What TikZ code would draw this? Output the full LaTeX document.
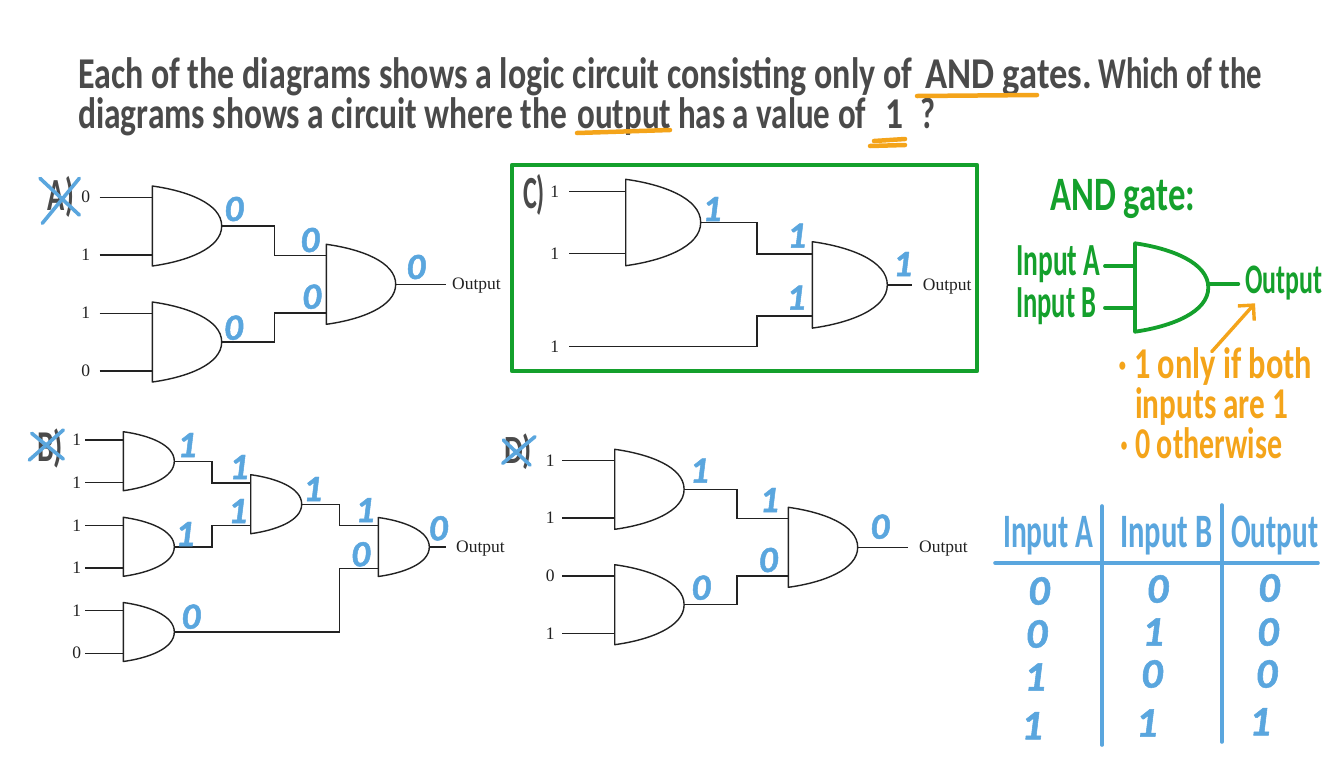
\documentclass[tikz,border=0pt]{standalone}
\usepackage{fontspec}
\usepackage{graphicx}
\usetikzlibrary{arrows.meta,calc}
\newfontfamily\hwf{Carlito}
\newfontfamily\hwd[BoldItalicFeatures={FakeBold=1.3}]{Carlito}
\newfontfamily\serf{Liberation Serif}
\definecolor{ink}{HTML}{4A4A4A}
\definecolor{hgreen}{HTML}{14A02C}
\definecolor{hblue}{HTML}{5AA6DE}
\definecolor{horange}{HTML}{F4A41A}
\definecolor{wirec}{HTML}{222222}
\newcommand{\hw}[3]{\resizebox{#1pt}{\height}{\hwf\bfseries\fontsize{#2}{#2}\selectfont #3}}
\newcommand{\andgate}[6][gateline]{%
  \begin{scope}[shift={(#3,#4)},x=#5pt,y=-#6pt]
    \draw[#1] (0,0) .. controls (.5,.06) and (1,.22) .. (1,.5)
      .. controls (1,.78) and (.5,.94) .. (0,1) -- cycle;
    \coordinate (#2-a) at (0,.14);
    \coordinate (#2-b) at (0,.86);
    \coordinate (#2-o) at (1,.5);
  \end{scope}}
\tikzset{
  gateline/.style={draw=wirec,line width=1.4pt,line join=round},
  wire/.style={draw=wirec,line width=1.4pt},
  bigline/.style={draw=hgreen,line width=3.8pt,line join=round,line cap=round},
  inlab/.style={font=\serf\fontsize{17.5}{17.5}\selectfont,text=wirec,anchor=east,inner ysep=0pt},
  outlab/.style={font=\serf\fontsize{17.5}{17.5}\selectfont,text=wirec,anchor=base west,inner ysep=0pt,yshift=-5.5pt},
  val/.style={font=\hwd\bfseries\itshape\fontsize{37}{37}\selectfont,text=hblue,inner sep=0pt},
  tval/.style={font=\hwd\bfseries\itshape\fontsize{42}{42}\selectfont,text=hblue,inner sep=0pt},
  tline/.style={draw=hblue,line width=3.6pt,line cap=round},
  cross/.style={draw=hblue,line width=3.6pt,line cap=round},
  under/.style={draw=horange,line width=4.5pt,line cap=round},
  hand/.style={anchor=base west,inner sep=0pt},
  opt/.style={text=ink,inner sep=0pt},
}
\begin{document}
\begin{tikzpicture}[x=1pt,y=-1pt]
\useasboundingbox (0,0) rectangle (1344,756);
\fill[white] (0,0) rectangle (1344,756);

% title
\node[hand,text=ink] (t1) at (78,88) {\hw{834}{44}{Each of the diagrams shows a logic circuit consisting only of}};
\node[hand,text=ink] (t2) at (925,88) {\hw{167}{44}{AND gates.}};
\node[hand,text=ink] (t3) at (1098,88) {\hw{164}{44}{Which of the}};
\node[hand,text=ink] (t4) at (78,128) {\hw{489}{44}{diagrams shows a circuit where the}};
\node[hand,text=ink] (t5) at (577,128) {\hw{94}{44}{output}};
\node[hand,text=ink] (t6) at (678,128) {\hw{188}{44}{has a value of}};
\node[hand,text=ink] (t7) at (885,128) {\hw{18}{44}{1}};
\node[hand,text=ink] (t8) at (920,128) {\hw{15}{44}{?}};
\draw[under] (917,96) -- (1037,95);
\draw[under] (577,133) -- (670,130);
\draw[under] (870,146) -- (905,145);
\draw[under] (874,141) -- (905,139);

% diagram A
\andgate{A1}{152.3}{186}{69.4}{80}
\andgate{A2}{152.3}{302}{69.4}{80}
\andgate{A3}{326.3}{244.3}{69.4}{80}
\coordinate (jA) at (274.7,0);
\node[inlab,inner xsep=9.3pt] (Ai1) at (99.7,0 |- A1-a) {0};
\node[inlab,inner xsep=9.3pt] (Ai2) at (99.7,0 |- A1-b) {1};
\node[inlab,inner xsep=9.3pt] (Ai3) at (99.7,0 |- A2-a) {1};
\node[inlab,inner xsep=9.3pt] (Ai4) at (99.7,0 |- A2-b) {0};
\draw[wire] (Ai1.east) -- (A1-a);
\draw[wire] (Ai2.east) -- (A1-b);
\draw[wire] (Ai3.east) -- (A2-a);
\draw[wire] (Ai4.east) -- (A2-b);
\draw[wire] (A1-o) -| (jA |- A3-a) -- (A3-a);
\draw[wire] (A2-o) -| (jA |- A3-b) -- (A3-b);
\node[outlab,inner xsep=6pt] (Aout) at (446,0 |- A3-o) {Output};
\draw[wire] (A3-o) -- (Aout.west |- A3-o);
\foreach \x/\y/\d [count=\i] in {234/209/0,310/240/0,233.5/327.7/0,311.7/296.7/0,416/267/0}
  \node[val] (Av\i) at (\x,\y) {\d};
\node[opt] (Alab) at (61,197) {\hw{26}{46}{A)}};
\draw[cross] (40,178.3) -- (79.3,215);
\draw[cross] (79.3,178.3) -- (42.3,223.3);

% diagram C
\draw[bigline,line width=4.5pt] (512,165) rectangle (977,371);
\andgate{C1}{625.7}{179.3}{75}{86.4}
\andgate{C2}{812.3}{241.7}{75}{86.4}
\coordinate (jC) at (757,0);
\node[inlab,inner xsep=9.6pt] (Ci1) at (569,0 |- C1-a) {1};
\node[inlab,inner xsep=9.6pt] (Ci2) at (569,0 |- C1-b) {1};
\node[inlab,inner xsep=9.6pt] (Ci3) at (569,346.7) {1};
\draw[wire] (Ci1.east) -- (C1-a);
\draw[wire] (Ci2.east) -- (C1-b);
\draw[wire] (Ci3.east) -| (jC |- C2-b) -- (C2-b);
\draw[wire] (C1-o) -| (jC |- C2-a) -- (C2-a);
\node[outlab,inner xsep=10.4pt] (Cout) at (912.3,0 |- C2-o) {Output};
\draw[wire] (C2-o) -- (Cout.west |- C2-o);
\foreach \x/\y/\d [count=\i] in {712/209/1,796.7/235.7/1,796/297.7/1,902.7/264/1}
  \node[val] (Cv\i) at (\x,\y) {\d};
\node[opt] (Clab) at (534,195) {\hw{22}{46}{C)}};

% diagram B
\andgate{B1}{123.3}{431.7}{51}{59}
\andgate{B2}{123.3}{517.3}{51}{59}
\andgate{B3}{123.3}{602.5}{51}{59}
\andgate{B4}{250.7}{474.7}{51}{59}
\andgate{B5}{378.3}{517.5}{51}{59}
\coordinate (jB1) at (212,0);
\coordinate (jB2) at (339.7,0);
\node[inlab,inner xsep=3.6pt] (Bi1) at (85,0 |- B1-a) {1};
\node[inlab,inner xsep=3.6pt] (Bi2) at (85,0 |- B1-b) {1};
\node[inlab,inner xsep=3.6pt] (Bi3) at (85,0 |- B2-a) {1};
\node[inlab,inner xsep=3.6pt] (Bi4) at (85,0 |- B2-b) {1};
\node[inlab,inner xsep=3.6pt] (Bi5) at (85,0 |- B3-a) {1};
\node[inlab,inner xsep=3.6pt] (Bi6) at (85,0 |- B3-b) {0};
\draw[wire] (Bi1.east) -- (B1-a);
\draw[wire] (Bi2.east) -- (B1-b);
\draw[wire] (Bi3.east) -- (B2-a);
\draw[wire] (Bi4.east) -- (B2-b);
\draw[wire] (Bi5.east) -- (B3-a);
\draw[wire] (Bi6.east) -- (B3-b);
\draw[wire] (B1-o) -| (jB1 |- B4-a) -- (B4-a);
\draw[wire] (B2-o) -| (jB1 |- B4-b) -- (B4-b);
\draw[wire] (B4-o) -| (jB2 |- B5-a) -- (B5-a);
\draw[wire] (B3-o) -| (jB2 |- B5-b) -- (B5-b);
\node[outlab,inner xsep=10pt] (Bout) at (446,0 |- B5-o) {Output};
\draw[wire] (B5-o) -- (Bout.west |- B5-o);
\foreach \x/\y/\d [count=\i] in {187/445/1,239/467/1,237.7/511/1,185/534/1,312.7/489/1,365/510/1,360.7/554.3/0,438.3/528.3/0,191/616.7/0}
  \node[val] (Bv\i) at (\x,\y) {\d};
\node[opt] (Blab) at (50,448) {\hw{26}{44}{B)}};
\draw[cross] (63.3,430) -- (29.3,460);
\draw[cross] (31.7,433.3) -- (63.3,459);

% diagram D
\andgate{D1}{614.7}{449.3}{69.4}{80}
\andgate{D2}{614.7}{564.7}{69.4}{80}
\andgate{D3}{788.3}{507.3}{69.4}{80}
\coordinate (jD) at (737,0);
\node[inlab,inner xsep=7.3pt] (Di1) at (562,0 |- D1-a) {1};
\node[inlab,inner xsep=7.3pt] (Di2) at (562,0 |- D1-b) {1};
\node[inlab,inner xsep=7.3pt] (Di3) at (562,0 |- D2-a) {0};
\node[inlab,inner xsep=7.3pt] (Di4) at (562,0 |- D2-b) {1};
\draw[wire] (Di1.east) -- (D1-a);
\draw[wire] (Di2.east) -- (D1-b);
\draw[wire] (Di3.east) -- (D2-a);
\draw[wire] (Di4.east) -- (D2-b);
\draw[wire] (D1-o) -| (jD |- D3-a) -- (D3-a);
\draw[wire] (D2-o) -| (jD |- D3-b) -- (D3-b);
\node[outlab,inner xsep=10.7pt] (Dout) at (908.3,0 |- D3-o) {Output};
\draw[wire] (D3-o) -- (Dout.west |- D3-o);
\foreach \x/\y/\d [count=\i] in {699.3/470.7/1,769.3/500/1,768.3/560/0,701/587.7/0,880/526.7/0}
  \node[val] (Dv\i) at (\x,\y) {\d};
\node[opt] (Dlab) at (518,452) {\hw{28}{40}{D)}};
\draw[cross] (535,436.7) -- (502.7,463.3);
\draw[cross] (503.3,440) -- (530,465);

% AND gate panel
\node[hand,text=hgreen] (g0) at (1050,210) {\hw{145}{48}{AND gate:}};
\andgate[bigline]{G}{1135}{243.3}{73.3}{88.4}
\node[hand,text=hgreen] (gA) at (1016,275) {\hw{84}{46}{Input A}};
\node[hand,text=hgreen] (gB) at (1016,317) {\hw{80}{46}{Input B}};
\node[hand,text=hgreen] (gO) at (1245,293) {\hw{77}{42}{Output}};
\coordinate (gAe) at (1105,266);
\coordinate (gBe) at (1105,307.7);
\coordinate (gOe) at (1238.3,284);
\draw[bigline] (gAe) -- (G-a |- gAe);
\draw[bigline] (gBe) -- (G-b |- gBe);
\draw[bigline] (G-o |- gOe) -- (gOe);
\node[hand,text=horange] (n1) at (1118,378) {\hw{194}{44}{· 1 only if both}};
\node[hand,text=horange] (n2) at (1135,418) {\hw{153}{44}{inputs are 1}};
\node[hand,text=horange] (n3) at (1120,458) {\hw{162}{44}{· 0 otherwise}};
\coordinate (arS) at (1211.7,351.7);
\coordinate (arE) at (1255,303.3);
\draw[draw=horange,line width=3.4pt,line cap=round,line join=round,-{Straight Barb[length=11pt,width=22pt]}] (arS) -- (arE);

% truth table
\node[hand,text=hblue] (h1) at (1003,547) {\hw{90}{48}{Input A}};
\node[hand,text=hblue] (h2) at (1120,547) {\hw{92}{48}{Input B}};
\node[hand,text=hblue] (h3) at (1231,547) {\hw{87}{48}{Output}};
\draw[tline] (995,563) -- (1318,563);
\draw[tline] (1102,506) -- (1102,745);
\draw[tline] (1221.7,505) -- (1221.7,742);
\foreach \x/\y/\d [count=\i] in {1039/591/0,1036.7/634/0,1035/677/1,1032/725.7/1,1157.7/589/0,1153/632/1,1152/674/0,1146.7/723/1,1269/588/0,1268/632/0,1266.7/674/0,1260/721.7/1}
  \node[tval] (T\i) at (\x,\y) {\d};
\end{tikzpicture}
\end{document}
